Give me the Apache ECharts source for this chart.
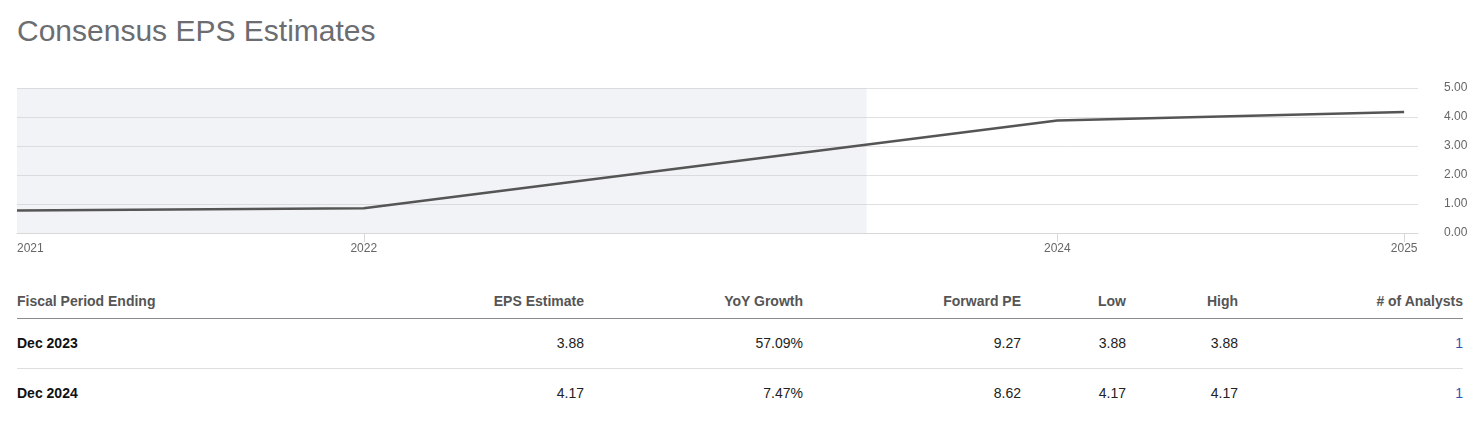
<!DOCTYPE html>
<html>
<head>
<meta charset="utf-8">
<script src="https://cdn.jsdelivr.net/npm/echarts@6/dist/echarts.min.js"></script>
<style>
  html, body { margin: 0; padding: 0; background: #fff; width: 1478px; height: 432px; overflow: hidden; font-family: "Liberation Sans", Arial, sans-serif; }
  #title { position: absolute; left: 17px; top: 13px; font-size: 30px; color: #6b6d70; line-height: 36px; white-space: nowrap; }
  #chart { position: absolute; left: 0; top: 0; width: 1478px; height: 270px; }
  #table { position: absolute; left: 17px; top: 284px; width: 1446px; }
  .row { position: relative; height: 49px; }
  .hdr { height: 34px; border-bottom: 1px solid #8a8d90; }
  .r1 { border-bottom: 1px solid #dedede; }
  .cell { position: absolute; font-size: 14px; white-space: nowrap; }
  .hdr .cell { top: 9px; font-weight: bold; color: #555; }
  .row .cell.v { top: 16px; color: #222; }
  .b { font-weight: bold; color: #111 !important; }
  .lnk { color: #2a55b5 !important; }
</style>
</head>
<body>
<div id="title">Consensus EPS Estimates</div>
<div id="chart"></div>
<div id="table"></div>
<script>
// ---- data ----
const years = [2021, 2022, 2024, 2025];
const epsValues = [0.78, 0.85, 3.88, 4.17];
const xLabelValues = [2021, 2022, 2024, 2025];
const xTickValues = [2022, 2024, 2025];
const yTicks = [0, 1, 2, 3, 4, 5];
const shadeStart = 2021;
const shadeEnd = 2023.45;

const tableHeaders = ["Fiscal Period Ending", "EPS Estimate", "YoY Growth", "Forward PE", "Low", "High", "# of Analysts"];
const periods = ["Dec 2023", "Dec 2024"];
const epsEstimates = ["3.88", "4.17"];
const yoyGrowth = ["57.09%", "7.47%"];
const forwardPE = ["9.27", "8.62"];
const lows = ["3.88", "4.17"];
const highs = ["3.88", "4.17"];
const analysts = ["1", "1"];

// ---- chart ----
const chart = echarts.init(document.getElementById('chart'), null, { renderer: 'canvas' });
chart.setOption({
  animation: false,
  textStyle: { fontFamily: '"Liberation Sans", Arial, sans-serif' },
  grid: { left: 17, right: 60, top: 88, height: 145, containLabel: false },
  xAxis: {
    type: 'value',
    min: 2021,
    max: 2025.04,
    axisLine: { show: true, lineStyle: { color: '#d8d8d8', width: 1 } },
    axisTick: { show: true, customValues: xTickValues, length: 9, lineStyle: { color: '#d8d8d8' } },
    axisLabel: {
      customValues: xLabelValues,
      formatter: v => String(Math.round(v)),
      alignMinLabel: 'left',
      color: '#666', fontSize: 12, margin: 10
    },
    splitLine: { show: false }
  },
  yAxis: {
    type: 'value',
    position: 'right',
    min: yTicks[0],
    max: yTicks[yTicks.length - 1],
    interval: 1,
    axisLine: { show: false },
    axisTick: { show: false },
    axisLabel: { formatter: v => v.toFixed(2), color: '#666', fontSize: 12, margin: 26 },
    splitLine: { show: true, lineStyle: { color: '#e0e0e0', width: 1 } }
  },
  series: [
    {
      type: 'line',
      data: [],
      markArea: {
        silent: true,
        itemStyle: { color: 'rgba(200,205,222,0.24)' },
        data: [[{ xAxis: shadeStart }, { xAxis: shadeEnd }]]
      }
    },
    {
      type: 'line',
      data: years.map((y, i) => [y, epsValues[i]]),
      symbol: 'none',
      lineStyle: { color: '#555', width: 2.5 },
      itemStyle: { color: '#555' }
    }
  ]
});

// ---- table ----
const rights = [null, 584, 803, 1021, 1126, 1238, 1463];
function cellHtml(text, colIdx, cls) {
  if (colIdx === 0) return `<div class="cell ${cls}" style="left:0">${text}</div>`;
  return `<div class="cell ${cls}" style="right:${1463 - rights[colIdx]}px">${text}</div>`;
}
let html = '<div class="row hdr">' + tableHeaders.map((h, i) => cellHtml(h, i, '')).join('') + '</div>';
periods.forEach((p, r) => {
  const vals = [p, epsEstimates[r], yoyGrowth[r], forwardPE[r], lows[r], highs[r], analysts[r]];
  html += `<div class="row ${r === 0 ? 'r1' : ''}">` + vals.map((v, i) => cellHtml(v, i, 'v' + (i === 0 ? ' b' : '') + (i === 6 ? ' lnk' : ''))).join('') + '</div>';
});
document.getElementById('table').innerHTML = html;
</script>
</body>
</html>
